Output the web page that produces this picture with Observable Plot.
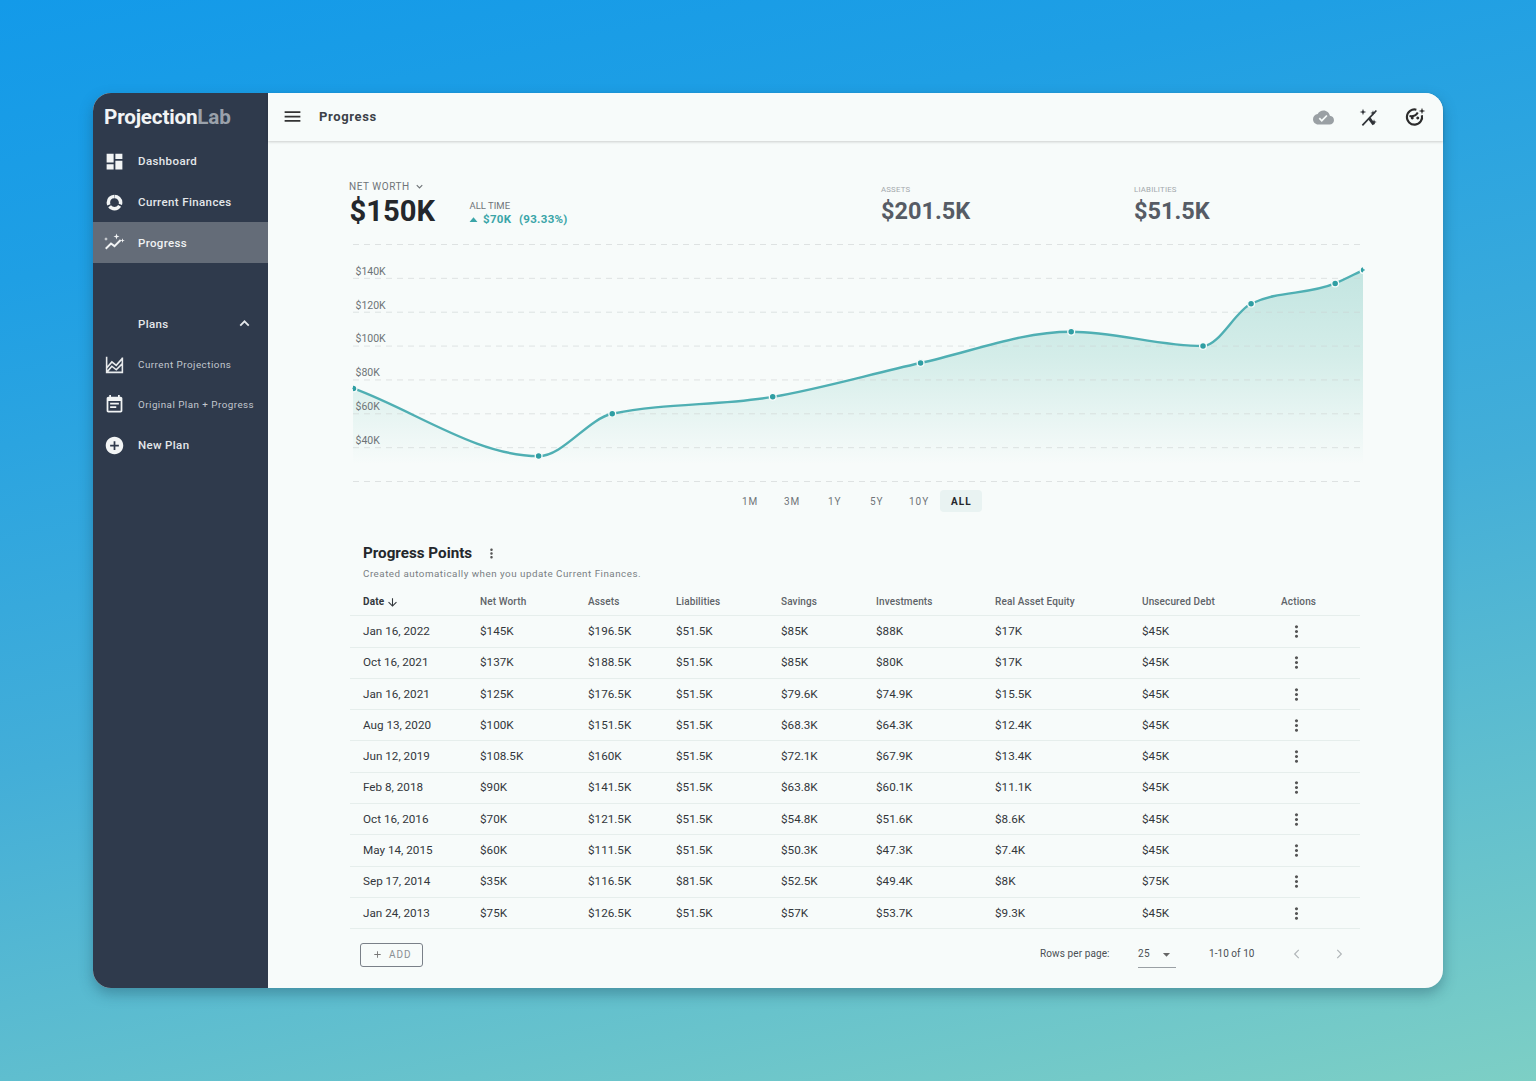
<!DOCTYPE html>
<html>
<head>
<meta charset="utf-8">
<script src="https://cdn.jsdelivr.net/npm/d3@7"></script>
<script src="https://cdn.jsdelivr.net/npm/@observablehq/plot@0.6"></script>
<style>
  html, body { margin: 0; padding: 0; }
  body { width: 1536px; height: 1081px; overflow: hidden; position: relative; font-family: Roboto, sans-serif;
    background: linear-gradient(168deg, #139ae9 0%, #1f9fe4 20%, #43aed8 55%, #7dcfc5 100%); }
  #card { position: absolute; left: 93px; top: 93px; width: 1350px; height: 895px; background: #f7fbfa;
    border-radius: 18px; box-shadow: 0 6px 14px rgba(20,60,80,.35); overflow: hidden; }
  #side { position: absolute; left: 93px; top: 93px; width: 175px; height: 895px; background: #2f3a4c; border-radius: 18px 0 0 18px; }
  #active { position: absolute; left: 93px; top: 222px; width: 175px; height: 41px; background: #646c78; }
  #topbar { position: absolute; left: 268px; top: 93px; width: 1175px; height: 48px; background: #f7fbfa;
    border-radius: 0 18px 0 0; box-shadow: 0 1px 3px rgba(0,0,0,.18); }
  #allBtn { position: absolute; left: 940px; top: 490px; width: 42px; height: 22px; background: #e9f3f2; border-radius: 4px; }
  #addBtn { position: absolute; left: 360px; top: 943px; width: 61px; height: 22px; border: 1px solid #7a8088; border-radius: 3px; }
  #chart { position: absolute; left: 353px; top: 240px; }
  .t { position: absolute; transform: translateY(-50%); white-space: nowrap; line-height: 1; }
  .i { position: absolute; }
  .sep { position: absolute; left: 350px; width: 1010px; height: 1px; background: #e6eeec; }
</style>
</head>
<body>
<div id="card"></div>
<div id="side"></div>
<div id="active"></div>
<div id="topbar"></div>
<div id="allBtn"></div>
<div id="addBtn"></div>
<div id="chart"></div>
<div id="ui"></div>
<script>
// datos de la tabla (de mas nuevo a mas viejo)
const dates = ["Jan 16, 2022", "Oct 16, 2021", "Jan 16, 2021", "Aug 13, 2020", "Jun 12, 2019", "Feb 8, 2018", "Oct 16, 2016", "May 14, 2015", "Sep 17, 2014", "Jan 24, 2013"]
const netWorth = [145, 137, 125, 100, 108.5, 90, 70, 60, 35, 75]
const assets = [196.5, 188.5, 176.5, 151.5, 160, 141.5, 121.5, 111.5, 116.5, 126.5]
const liabilities = [51.5, 51.5, 51.5, 51.5, 51.5, 51.5, 51.5, 51.5, 81.5, 51.5]
const savings = [85, 85, 79.6, 68.3, 72.1, 63.8, 54.8, 50.3, 52.5, 57]
const investments = [88, 80, 74.9, 64.3, 67.9, 60.1, 51.6, 47.3, 49.4, 53.7]
const equity = [17, 17, 15.5, 12.4, 13.4, 11.1, 8.6, 7.4, 8, 9.3]
const debt = [45, 45, 45, 45, 45, 45, 45, 45, 75, 45]
const headers = ["Net Worth", "Assets", "Liabilities", "Savings", "Investments", "Real Asset Equity", "Unsecured Debt", "Actions"]
const yTicks = [40, 60, 80, 100, 120, 140]
const yGrid = [20, 40, 60, 80, 100, 120, 140, 160]
const areaFloor = 30
const ranges = ["1M", "3M", "1Y", "5Y", "10Y", "ALL"]
const rangeX = [742, 784, 828, 870, 909, 951]
const colX = [480, 588, 676, 781, 876, 995, 1142]
const rowY = [632, 663, 694.5, 725.5, 756.5, 788, 819.5, 850.5, 882, 913.5]
const dotY = [631.5, 662.5, 694, 725, 756, 787.5, 819, 850, 881.5, 913]
const sepY = [615, 647, 678, 709, 740, 772, 803, 834, 866, 897, 928]

const parseDate = d3.timeParse("%b %e, %Y")
const points = dates.map((d, i) => ({date: parseDate(d), value: netWorth[i]}))
const money = v => `$${v}K`

const teal = "#4fafb3"

// monotone pero con la tangente de los extremos igual a la secante (el tramo inicial queda casi recto)
function softMonotone(ctx) {
  let pts, pass = NaN
  return {
    areaStart() { pass = 0 },
    areaEnd() { pass = NaN },
    lineStart() { pts = [] },
    point(x, y) { pts.push([+x, +y]) },
    lineEnd() {
      const n = pts.length
      const slope = i => (pts[i + 1][1] - pts[i][1]) / (pts[i + 1][0] - pts[i][0])
      const tan = pts.map((p, i) => {
        if (i == 0) return slope(0)
        if (i == n - 1) return slope(n - 2)
        const s0 = slope(i - 1), s1 = slope(i)
        const h0 = p[0] - pts[i - 1][0], h1 = pts[i + 1][0] - p[0]
        const m = (s0 * h1 + s1 * h0) / (h0 + h1)
        return ((Math.sign(s0) + Math.sign(s1)) || 0) * Math.min(Math.abs(s0), Math.abs(s1), 0.5 * Math.abs(m))
      })
      if (pass === 1) ctx.lineTo(pts[0][0], pts[0][1])
      else ctx.moveTo(pts[0][0], pts[0][1])
      for (let i = 1; i < n; i++) {
        const dx = (pts[i][0] - pts[i - 1][0]) / 3
        ctx.bezierCurveTo(pts[i - 1][0] + dx, pts[i - 1][1] + dx * tan[i - 1], pts[i][0] - dx, pts[i][1] - dx * tan[i], pts[i][0], pts[i][1])
      }
      if (pass === 1) ctx.closePath()
      if (pass === 0) pass = 1
    },
  }
}

// el grafico
let chart = Plot.plot({
  width: 1010,
  height: 245,
  marginLeft: 0,
  marginRight: 0,
  marginTop: 4,
  marginBottom: 4,
  style: {background: "transparent", overflow: "visible"},
  x: {type: "time", domain: [parseDate(dates[9]), parseDate(dates[0])], axis: null},
  y: {domain: [20, 160]},
  marks: [
    // gradiente del area
    () => {
      const defs = d3.create("svg:defs")
      const g = defs.append("linearGradient").attr("id", "areaFade").attr("x1", 0).attr("x2", 0).attr("y1", 0).attr("y2", 1)
      g.append("stop").attr("offset", "0%").attr("stop-color", "#c3e5e1")
      g.append("stop").attr("offset", "45%").attr("stop-color", "#d4ede9")
      g.append("stop").attr("offset", "100%").attr("stop-color", "#f7fbfa")
      return defs.node()
    },
    Plot.areaY(points, {x: "date", y1: () => areaFloor, y2: "value", curve: softMonotone, fill: "url(#areaFade)"}),
    Plot.gridY(yGrid, {stroke: "#cdd2d2", strokeOpacity: 0.6, strokeDasharray: "6,5"}),
    Plot.axisY(yTicks, {
      anchor: "left", label: null, tickSize: 0, tickPadding: 0, textAnchor: "start", dx: 2, dy: -7,
      tickFormat: money, fontSize: 10.5, fill: "#6d7377", fontFamily: "Roboto"
    }),
    Plot.lineY(points, {x: "date", y: "value", curve: softMonotone, stroke: teal, strokeWidth: 2.4}),
    Plot.dot(points, {x: "date", y: "value", r: 3.4, fill: "#2f9ea3", stroke: "#f7fbfa", strokeWidth: 1.3, clip: true}),
  ],
})
d3.select("#chart").append(() => chart)

// textos e iconos de la interfaz
const ui = d3.select("#ui")
function txt(s, x, y, size, color, weight, spacing) {
  ui.append("div").attr("class", "t").text(s)
    .style("left", x + "px").style("top", y + "px").style("font-size", size + "px")
    .style("color", color).style("font-weight", weight || 400).style("letter-spacing", (spacing || 0) + "px")
}
function icon(d, x, y, size, color, box) {
  const s = ui.append("svg").attr("class", "i").attr("width", size).attr("height", size)
    .attr("viewBox", box || "0 0 24 24").style("left", x - size / 2 + "px").style("top", y - size / 2 + "px")
  s.append("path").attr("d", d).attr("fill", color)
  return s
}
function strokeIcon(d, x, y, size, color, w, dash) {
  const s = ui.append("svg").attr("class", "i").attr("width", size).attr("height", size)
    .attr("viewBox", "0 0 24 24").style("left", x - size / 2 + "px").style("top", y - size / 2 + "px")
  s.append("path").attr("d", d).attr("fill", "none").attr("stroke", color).attr("stroke-width", w).attr("stroke-dasharray", dash || null)
  return s
}
const moreVert = "M12 8c1.1 0 2-.9 2-2s-.9-2-2-2-2 .9-2 2 .9 2 2 2zm0 2c-1.1 0-2 .9-2 2s.9 2 2 2 2-.9 2-2-.9-2-2-2zm0 6c-1.1 0-2 .9-2 2s.9 2 2 2 2-.9 2-2-.9-2-2-2z"
const sparkle = "M12 4l2 6 6 2-6 2-2 6-2-6-6-2 6-2z"

// barra lateral
ui.append("div").attr("class", "t").html('Projection<span style="color:#9aa1ab">Lab</span>')
  .style("left", "104px").style("top", "116.5px").style("font-size", "20.7px").style("font-weight", 700).style("color", "#f2f4f5").style("letter-spacing", "-.2px")
txt("Dashboard", 138, 161.5, 11.5, "#e4e7ea", 500, .4)
txt("Current Finances", 138, 202.5, 11.5, "#e4e7ea", 500, .38)
txt("Progress", 138, 243.5, 11.5, "#f0f2f3", 500, .35)
txt("Plans", 138, 324.5, 11.5, "#e4e7ea", 500, .35)
txt("Current Projections", 138, 364.5, 9.8, "#c2c7ce", 400, .5)
txt("Original Plan + Progress", 138, 405, 9.8, "#c2c7ce", 400, .48)
txt("New Plan", 138, 446, 11.5, "#e4e7ea", 500, .35)
icon("M3 13h8V3H3v10zm0 8h8v-6H3v6zm10 0h8V11h-8v10zm0-18v6h8V3h-8z", 114, 161.5, 21, "#f2f4f5")
strokeIcon("M12 5a7 7 0 1 1 0 14a7 7 0 1 1 0-14", 114, 202, 21, "#f2f4f5", 4, "13 1.7")
strokeIcon("M2 18l6-6 4 3 7-7", 114, 243, 21, "#f2f4f5", 2.2)
icon(sparkle, 116, 236.5, 9, "#f2f4f5")
icon(sparkle, 122, 240, 7, "#f2f4f5")
icon(sparkle, 106, 238.5, 6, "#f2f4f5")
strokeIcon("M6 15l6-6 6 6", 244, 323.5, 17, "#e4e7ea", 2.6)
strokeIcon("M3 3v18h18V4M3 16l6-7 5 4 7-8M3 21l6-7 5 4 7-7", 114.5, 364, 21, "#e9ebed", 1.8)
icon("M17 10H7v2h10v-2zm2-7h-1V1h-2v2H8V1H6v2H5c-1.11 0-1.99.9-1.99 2L3 19c0 1.1.89 2 2 2h14c1.1 0 2-.9 2-2V5c0-1.1-.9-2-2-2zm0 16H5V8h14v11zm-5-5H7v2h7v-2z", 114, 404.5, 21, "#f2f4f5")
icon("M12 2C6.48 2 2 6.48 2 12s4.48 10 10 10 10-4.48 10-10S17.52 2 12 2zm5 11h-4v4h-2v-4H7v-2h4V7h2v4h4v2z", 114, 445.5, 21, "#f2f4f5")

// barra superior
icon("M3 18h18v-2H3v2zm0-5h18v-2H3v2zm0-7v2h18V6H3z", 292, 116.5, 21, "#333")
txt("Progress", 319, 116, 13, "#3c4148", 700, .65)
icon("M19.35 10.04C18.67 6.59 15.64 4 12 4 9.11 4 6.6 5.64 5.35 8.04 2.34 8.36 0 10.91 0 14c0 3.31 2.69 6 6 6h13c2.76 0 5-2.24 5-5 0-2.64-2.05-4.78-4.65-4.96zM10 17l-3.5-3.5 1.41-1.41L10 14.17 15.18 9l1.41 1.41L10 17z", 1323.5, 117, 21, "#9aa0a4")
strokeIcon("M5 21L21 4", 1368, 117, 21, "#2f3237", 2)
strokeIcon("M13 13l5 7", 1368, 117, 21, "#2f3237", 3.4)
icon(sparkle, 1363, 112, 10, "#2f3237")
icon(sparkle, 1373, 113, 8, "#2f3237")
icon(sparkle, 1374, 122, 8, "#2f3237")
strokeIcon("M19.5 10a8.3 8.3 0 1 1-6-6M6 11c3 .5 7-.5 9-4", 1415, 117, 22, "#2b2b2b", 2.3)
icon(sparkle, 1421.5, 110.5, 10, "#2b2b2b")
icon("M9 11.5a1.6 1.6 0 1 0 .01 0zM15 11.5a1.6 1.6 0 1 0 .01 0z", 1415, 117, 22, "#2b2b2b")

// resumen
txt("NET WORTH", 349, 186.5, 10, "#6f7478", 400, .55)
strokeIcon("M6 9l6 6 6-6", 419, 186, 11, "#6f7478", 2.5)
txt("$150K", 349.5, 212, 29.2, "#24272b", 700, 0)
txt("ALL TIME", 469.5, 205.5, 9.5, "#6f7478", 400, 0)
icon("M7 15l5-6 5 6z", 473, 219, 19, "#3aa5a8")
txt("$70K", 483, 219.5, 11.5, "#3aa5a8", 700, .3)
txt("(93.33%)", 519, 219.5, 11.5, "#3aa5a8", 700, .3)
txt("ASSETS", 881, 189.5, 7.8, "#a3a8ac", 400, .2)
txt("$201.5K", 881, 211.5, 23.5, "#565c65", 700, 0)
txt("LIABILITIES", 1134, 189.5, 7.8, "#a3a8ac", 400, .2)
txt("$51.5K", 1134, 211.5, 23.5, "#565c65", 700, 0)

// selector de rango
ranges.forEach((r, i) => {
  if (r == "ALL") txt(r, rangeX[i], 501.5, 10, "#24272b", 700, 1)
  else txt(r, rangeX[i], 501.5, 10, "#6f7478", 400, 1)
})

// tabla
txt("Progress Points", 363, 553.5, 15.2, "#24272b", 700, 0)
icon(moreVert, 491.5, 553, 15, "#555")
txt("Created automatically when you update Current Finances.", 363, 574, 9.8, "#7a7f84", 400, .5)
txt("Date", 363, 602, 10, "#33373c", 700, .15)
icon("M20 12l-1.41-1.41L13 16.17V4h-2v12.17l-5.58-5.59L4 12l8 8 8-8z", 392, 602.5, 13, "#33373c")
headers.slice(0, 7).forEach((h, i) => txt(h, colX[i], 602, 10, "#5e6368", 500, .12))
txt(headers[7], 1281, 602, 10, "#5e6368", 500, .15)
sepY.forEach(y => ui.append("div").attr("class", "sep").style("top", y + "px"))
const cols = [netWorth, assets, liabilities, savings, investments, equity, debt]
dates.forEach((d, r) => {
  txt(d, 363, rowY[r], 11.7, "#33373c", 400, 0)
  cols.forEach((c, i) => txt(money(c[r]), colX[i], rowY[r], 11.7, "#33373c", 400, 0))
  icon(moreVert, 1296.5, dotY[r], 19, "#555")
})

// pie de tabla
icon("M19 13h-6v6h-2v-6H5v-2h6V5h2v6h6v2z", 377.5, 954.5, 11, "#777")
txt("ADD", 389, 954.5, 10, "#8a8f93", 400, .9)
txt("Rows per page:", 1040, 953.5, 10, "#4a4f54", 400, .1)
txt("25", 1138, 953.5, 10, "#4a4f54", 400, .3)
icon("M7 10l5 5 5-5z", 1166.5, 954, 17, "#666")
ui.append("div").attr("class", "sep").style("left", "1138px").style("width", "38px").style("top", "967px").style("background", "#9aa0a4")
txt("1-10 of 10", 1209, 953.5, 10, "#4a4f54", 400, .05)
strokeIcon("M15 5l-7 7 7 7", 1296.5, 953.5, 14, "#b0b5b8", 2)
strokeIcon("M9 5l7 7-7 7", 1338.5, 953.5, 14, "#b0b5b8", 2)
</script>
</body>
</html>
